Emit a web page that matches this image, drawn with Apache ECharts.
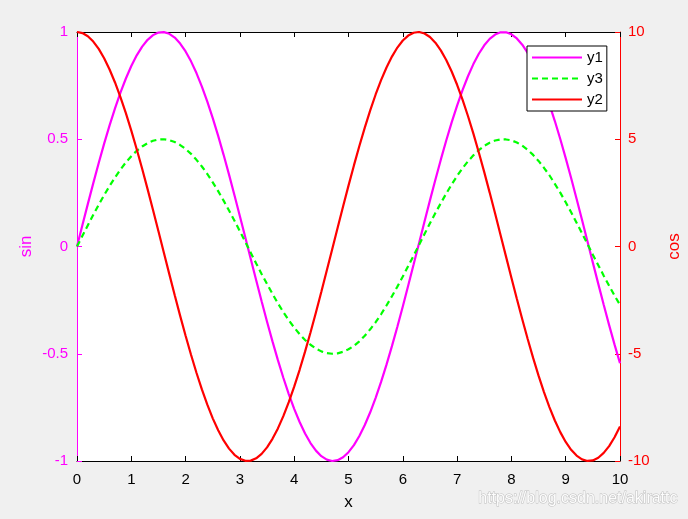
<!DOCTYPE html>
<html>
<head>
<meta charset="utf-8">
<script src="https://cdn.jsdelivr.net/npm/echarts@6/dist/echarts.min.js"></script>
<style>
html,body{margin:0;padding:0;background:#f0f0f0;}
#c{width:688px;height:519px;}
</style>
</head>
<body>
<div id="c"></div>
<script>
const xs = [0,0.1,0.2,0.3,0.4,0.5,0.6,0.7,0.8,0.9,1,1.1,1.2,1.3,1.4,1.5,1.6,1.7,1.8,1.9,2,2.1,2.2,2.3,2.4,2.5,2.6,2.7,2.8,2.9,3,3.1,3.2,3.3,3.4,3.5,3.6,3.7,3.8,3.9,4,4.1,4.2,4.3,4.4,4.5,4.6,4.7,4.8,4.9,5,5.1,5.2,5.3,5.4,5.5,5.6,5.7,5.8,5.9,6,6.1,6.2,6.3,6.4,6.5,6.6,6.7,6.8,6.9,7,7.1,7.2,7.3,7.4,7.5,7.6,7.7,7.8,7.9,8,8.1,8.2,8.3,8.4,8.5,8.6,8.7,8.8,8.9,9,9.1,9.2,9.3,9.4,9.5,9.6,9.7,9.8,9.9,10];
const y1 = [0,0.0998,0.1987,0.2955,0.3894,0.4794,0.5646,0.6442,0.7174,0.7833,0.8415,0.8912,0.9320,0.9636,0.9854,0.9975,0.9996,0.9917,0.9738,0.9463,0.9093,0.8632,0.8085,0.7457,0.6755,0.5985,0.5155,0.4274,0.3350,0.2392,0.1411,0.0416,-0.0584,-0.1577,-0.2555,-0.3508,-0.4425,-0.5298,-0.6119,-0.6878,-0.7568,-0.8183,-0.8716,-0.9162,-0.9516,-0.9775,-0.9937,-0.9999,-0.9962,-0.9825,-0.9589,-0.9258,-0.8835,-0.8323,-0.7728,-0.7055,-0.6313,-0.5507,-0.4646,-0.3739,-0.2794,-0.1822,-0.0831,0.0168,0.1165,0.2151,0.3115,0.4048,0.4941,0.5784,0.6570,0.7290,0.7937,0.8504,0.8987,0.9380,0.9679,0.9882,0.9985,0.9989,0.9894,0.9699,0.9407,0.9022,0.8546,0.7985,0.7344,0.6630,0.5849,0.5010,0.4121,0.3191,0.2229,0.1245,0.0248,-0.0752,-0.1743,-0.2718,-0.3665,-0.4575,-0.5440];
const y3 = [0,0.050,0.099,0.148,0.195,0.240,0.282,0.322,0.359,0.392,0.421,0.446,0.466,0.482,0.493,0.499,0.500,0.496,0.487,0.473,0.455,0.432,0.404,0.373,0.338,0.299,0.258,0.214,0.168,0.120,0.071,0.021,-0.029,-0.079,-0.128,-0.175,-0.221,-0.265,-0.306,-0.344,-0.378,-0.409,-0.436,-0.458,-0.476,-0.489,-0.497,-0.500,-0.498,-0.491,-0.479,-0.463,-0.442,-0.416,-0.386,-0.353,-0.316,-0.275,-0.232,-0.187,-0.140,-0.091,-0.042,0.008,0.058,0.108,0.156,0.202,0.247,0.289,0.329,0.365,0.397,0.425,0.449,0.469,0.484,0.494,0.499,0.499,0.495,0.485,0.470,0.451,0.427,0.399,0.367,0.332,0.292,0.251,0.206,0.160,0.111,0.062,0.012,-0.038,-0.087,-0.136,-0.183,-0.229,-0.272];
const y2 = [10,9.950,9.801,9.553,9.211,8.776,8.253,7.648,6.967,6.216,5.403,4.536,3.624,2.675,1.700,0.707,-0.292,-1.288,-2.272,-3.233,-4.161,-5.048,-5.885,-6.663,-7.374,-8.011,-8.569,-9.041,-9.422,-9.710,-9.900,-9.991,-9.983,-9.875,-9.668,-9.365,-8.968,-8.481,-7.910,-7.259,-6.536,-5.748,-4.903,-4.008,-3.073,-2.108,-1.122,-0.124,0.875,1.865,2.837,3.780,4.685,5.544,6.347,7.087,7.756,8.347,8.855,9.275,9.602,9.833,9.965,9.999,9.932,9.766,9.502,9.144,8.694,8.157,7.539,6.845,6.084,5.261,4.385,3.466,2.513,1.534,0.540,-0.460,-1.455,-2.435,-3.392,-4.314,-5.193,-6.020,-6.787,-7.486,-8.111,-8.654,-9.111,-9.477,-9.748,-9.922,-9.997,-9.972,-9.847,-9.624,-9.304,-8.892,-8.391];
const seriesNames = ['y1','y3','y2'];
const xName = 'x', leftName = 'sin', rightName = 'cos';

const pairs = ys => xs.map((x,i)=>[x, ys[i]]);
const FONT = 'Liberation Sans, Arial, sans-serif';
const chart = echarts.init(document.getElementById('c'));
chart.setOption({
  backgroundColor:'#f0f0f0',
  animation:false,
  grid:{left:77,right:68,top:32,bottom:58,show:true,backgroundColor:'#ffffff',borderWidth:0,containLabel:false,outerBoundsMode:'none'},
  legend:{
    data:seriesNames, orient:'vertical', left:527, top:46,
    backgroundColor:'#ffffff', borderColor:'#000000', borderWidth:1, borderRadius:0,
    padding:[4,4,4,4], itemWidth:50, itemHeight:14, itemGap:6,
    itemStyle:{opacity:0},
    textStyle:{fontFamily:FONT,fontSize:15,color:'#000'}
  },
  xAxis:[{
    type:'value', min:0, max:10, interval:1, position:'bottom',
    name:xName, nameLocation:'middle', nameGap:33, nameMoveOverlap:false,
    nameTextStyle:{fontFamily:FONT,fontSize:17,color:'#000'},
    axisLine:{show:true,onZero:false,lineStyle:{color:'#000',width:1}},
    axisTick:{show:true,inside:true,length:5,lineStyle:{color:'#000'}},
    axisLabel:{fontFamily:FONT,fontSize:15,color:'#000',margin:11},
    splitLine:{show:false}
  },{
    type:'value', min:0, max:10, interval:1, position:'top',
    axisLine:{show:true,onZero:false,lineStyle:{color:'#000',width:1}},
    axisTick:{show:true,inside:true,length:5,lineStyle:{color:'#000'}},
    axisLabel:{show:false}, splitLine:{show:false}
  }],
  yAxis:[{
    type:'value', min:-1, max:1, interval:0.5, position:'left',
    name:leftName, nameLocation:'middle', nameGap:42, nameMoveOverlap:false,
    nameTextStyle:{fontFamily:FONT,fontSize:17,color:'#ff00ff'},
    axisLine:{show:true,onZero:false,lineStyle:{color:'#ff00ff',width:1}},
    axisTick:{show:true,inside:true,length:5,lineStyle:{color:'#ff00ff'}},
    axisLabel:{fontFamily:FONT,fontSize:15,color:'#ff00ff',margin:9},
    splitLine:{show:false}
  },{
    type:'value', min:-10, max:10, interval:5, position:'right',
    name:rightName, nameLocation:'middle', nameGap:46, nameMoveOverlap:false,
    nameTextStyle:{fontFamily:FONT,fontSize:17,color:'#ff0000'},
    axisLine:{show:true,onZero:false,lineStyle:{color:'#ff0000',width:1}},
    axisTick:{show:true,inside:true,length:5,lineStyle:{color:'#ff0000'}},
    axisLabel:{fontFamily:FONT,fontSize:15,color:'#ff0000',margin:8},
    splitLine:{show:false}
  }],
  series:[
    {name:seriesNames[0],type:'line',xAxisIndex:0,yAxisIndex:0,data:pairs(y1),symbol:'none',
     lineStyle:{color:'#ff00ff',width:2.2},itemStyle:{color:'#ff00ff'}},
    {name:seriesNames[1],type:'line',xAxisIndex:0,yAxisIndex:0,data:pairs(y3),symbol:'none',
     lineStyle:{color:'#00ff00',width:2.2,type:[6,4]},itemStyle:{color:'#00ff00'}},
    {name:seriesNames[2],type:'line',xAxisIndex:0,yAxisIndex:1,data:pairs(y2),symbol:'none',
     lineStyle:{color:'#ff0000',width:2.2},itemStyle:{color:'#ff0000'}}
  ],
  graphic:[{
    type:'text', right:10, top:490,
    style:{text:'https://blog.csdn.net/akirattc', font:'16px '+FONT, fill:'rgba(255,255,255,0.95)', stroke:'rgba(170,170,170,0.7)', lineWidth:1}
  }]
});
</script>
</body>
</html>
